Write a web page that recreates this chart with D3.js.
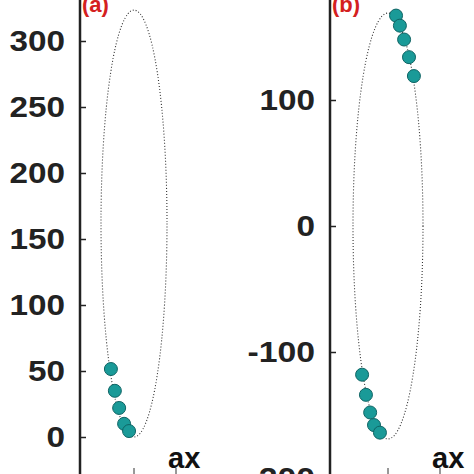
<!DOCTYPE html>
<html><head><meta charset="utf-8">
<script src="https://cdn.jsdelivr.net/npm/d3@7"></script>
<style>body{margin:0;background:#fff}</style></head>
<body><svg id="c" width="474" height="474"></svg>
<script>
const ticksA=[0,50,100,150,200,250,300];
const ticksB=[-200,-100,0,100];
const ptsAx=[-0.7,-0.58,-0.45,-0.3,-0.15];
const ptsAy=[51.5,35,22,10,4.5];
const ptsBx=[0.23,0.34,0.46,0.6,0.74,-0.74,-0.63,-0.51,-0.4,-0.23];
const ptsBy=[167,159,148,134,119,-118,-134,-148,-158,-164];
const ellA={cx:0,cy:161.7,rx:1,ry:161.7};
const ellB={cx:0,cy:0,rx:1,ry:169};
const labels=["(a)","(b)"];
const svg=d3.select("#c");
function panel(axisX,x,y,ticks,px,py,ell,lab,axLabelX){
  const g=svg.append("g");
  g.append("g").attr("transform",`translate(${axisX},0)`)
   .call(d3.axisLeft(y).tickValues(ticks).tickSize(5).tickFormat(d=>String(d)))
   .call(a=>{a.select(".domain").attr("d",`M0,-5V480`).attr("stroke","#222").attr("stroke-width",2.5);
     a.selectAll(".tick line").attr("stroke","#222").attr("stroke-width",1.5).attr("x2",6).attr("x1",0);
     a.selectAll("text").attr("font-family","Liberation Sans, Arial").attr("font-weight","bold")
      .attr("font-size",29).attr("fill","#222").attr("x",-15).attr("textLength",null)
      .each(function(d){const n=String(d).replace("-","").length;d3.select(this).attr("textLength",(String(d).startsWith("-")?12:0)+n*18.5).attr("lengthAdjust","spacingAndGlyphs");});});
  g.append("ellipse").attr("cx",x(ell.cx)).attr("cy",y(ell.cy))
   .attr("rx",x(ell.rx)-x(ell.cx)).attr("ry",y(0)-y(ell.ry))
   .attr("fill","none").attr("stroke","#333").attr("stroke-width",1.1).attr("stroke-dasharray","1,2");
  g.selectAll("circle.p").data(px).join("circle").attr("class","p")
   .attr("cx",d=>x(d)).attr("cy",(d,i)=>y(py[i])).attr("r",6.5)
   .attr("fill","#1a9a98").attr("stroke","#0f6464").attr("stroke-width",1);
  g.append("text").attr("x",axisX+2).attr("y",12).text(lab)
   .attr("font-family","Liberation Sans, Arial").attr("font-weight","bold").attr("font-size",22).attr("fill","#d42020");
  g.append("text").attr("x",axLabelX).attr("y",468).text("ax")
   .attr("font-family","Liberation Sans, Arial").attr("font-weight","bold").attr("font-size",29).attr("fill","#111");
  [x(0),axLabelX+8].forEach(t=>g.append("line").attr("x1",t).attr("x2",t).attr("y1",468).attr("y2",474).attr("stroke","#333"));
}
panel(80,d3.scaleLinear().domain([-1,1]).range([101,167]),
      d3.scaleLinear().domain([0,300]).range([437,41]),ticksA,ptsAx,ptsAy,ellA,labels[0],168);
panel(330,d3.scaleLinear().domain([-1,1]).range([353,423]),
      d3.scaleLinear().domain([-100,100]).range([352,100]),ticksB,ptsBx,ptsBy,ellB,labels[1],432);
</script></body></html>
